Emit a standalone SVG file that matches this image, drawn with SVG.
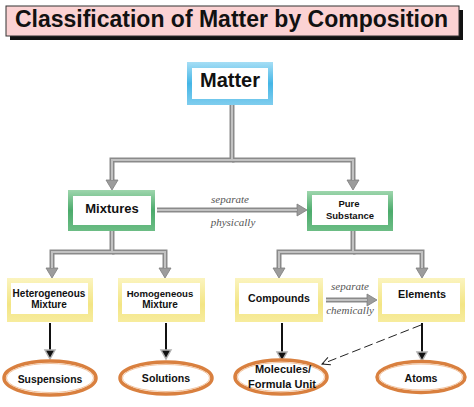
<svg xmlns="http://www.w3.org/2000/svg" width="474" height="407" viewBox="0 0 474 407">
<style>
.bold{font-family:"Liberation Sans",Arial,sans-serif;font-weight:bold;fill:#111;text-anchor:middle}
.ital{font-family:"Liberation Serif","Times New Roman",serif;font-style:italic;fill:#555;text-anchor:middle;font-size:11px}
.inner{fill:#fff}
.tubeo{fill:none;stroke:#8a8a8a;stroke-width:5}
.tubei{fill:none;stroke:#c2c2c2;stroke-width:2}
.blk{fill:none;stroke:#111;stroke-width:2}
.ell{fill:#fff;stroke:#d9803f;stroke-width:3.5}
.elli{fill:none;stroke:#f2c29c;stroke-width:1}
</style>
<defs>
<linearGradient id="gBlue" x1="0" y1="0" x2="0" y2="1"><stop offset="0" stop-color="#a6def5"/><stop offset="0.5" stop-color="#45b6e6"/><stop offset="1" stop-color="#7fcdee"/></linearGradient>
<linearGradient id="gGreen" x1="0" y1="0" x2="0" y2="1"><stop offset="0" stop-color="#9ed6ad"/><stop offset="0.5" stop-color="#4cab6c"/><stop offset="1" stop-color="#6cbd85"/></linearGradient>
<linearGradient id="gYel" x1="0" y1="0" x2="0" y2="1"><stop offset="0" stop-color="#fbf4bf"/><stop offset="0.6" stop-color="#f3e584"/><stop offset="1" stop-color="#f7ec9e"/></linearGradient>
<marker id="aGray" markerUnits="userSpaceOnUse" viewBox="0 -6 10 12" refX="0" refY="0" markerWidth="10" markerHeight="12" orient="auto" overflow="visible">
<path d="M0,-6 L10,0 L0,6 Z" fill="#9c9c9c" stroke="#7d7d7d" stroke-width="0.8"/>
</marker>
<marker id="aBlk" markerUnits="userSpaceOnUse" viewBox="0 -5 9 10" refX="0" refY="0" markerWidth="9" markerHeight="10" orient="auto" overflow="visible">
<path d="M0,-5 L9,0 L0,5 Z" fill="#111" stroke="#b0b0b0" stroke-width="1.5"/>
</marker>
<marker id="aDash" markerUnits="userSpaceOnUse" viewBox="0 -4 8 8" refX="8" refY="0" markerWidth="8" markerHeight="8" orient="auto" overflow="visible">
<path d="M0,-4 L8,0 L0,4" fill="none" stroke="#222" stroke-width="1"/>
</marker>
</defs>
<rect width="474" height="407" fill="#fff"/>

<g id="title">
<rect x="10" y="10" width="453" height="30" fill="#111"/>
<rect x="6" y="6" width="453" height="30" fill="#fbd2d3" stroke="#333" stroke-width="1"/>
<text class="bold" x="231.5" y="26" font-size="23" dominant-baseline="auto" style="dominant-baseline:auto" dy="0"><tspan y="26.5">Classification of Matter by Composition</tspan></text>
</g>

<g id="connectors">
<path class="tubeo" d="M232,105 V160 H112 V180" marker-end="url(#aGray)"/>
<path class="tubeo" d="M232,160 H353 V180" marker-end="url(#aGray)"/>
<path class="tubei" d="M232,105 V160 H112 V180 M232,160 H353 V180"/>
<path class="tubeo" d="M112,231 V252 H52 V268" marker-end="url(#aGray)"/>
<path class="tubeo" d="M112,252 H165 V268" marker-end="url(#aGray)"/>
<path class="tubei" d="M112,231 V252 H52 V268 M112,252 H165 V268"/>
<path class="tubeo" d="M353,231 V252 H279 V268" marker-end="url(#aGray)"/>
<path class="tubeo" d="M353,252 H422 V268" marker-end="url(#aGray)"/>
<path class="tubei" d="M353,231 V252 H279 V268 M353,252 H422 V268"/>
<path class="tubeo" d="M157,210 H297" marker-end="url(#aGray)"/>
<path class="tubei" d="M157,210 H297"/>
<path class="tubeo" d="M326,300 H367" marker-end="url(#aGray)"/>
<path class="tubei" d="M326,300 H367"/>
<path class="blk" d="M50,323 V350" marker-end="url(#aBlk)"/>
<path class="blk" d="M166,323 V350" marker-end="url(#aBlk)"/>
<path class="blk" d="M282,323 V352" marker-end="url(#aBlk)"/>
<path class="blk" d="M422,323 V352" marker-end="url(#aBlk)"/>
<path d="M421,325 L322,364" fill="none" stroke="#222" stroke-width="1" stroke-dasharray="9,4" marker-end="url(#aDash)"/>
<text class="ital" x="230" y="203">separate</text>
<text class="ital" x="233" y="226">physically</text>
<text class="ital" x="350" y="290">separate</text>
<text class="ital" x="350" y="314">chemically</text>
</g>

<g id="matter">
<rect x="187" y="62" width="86" height="43" fill="url(#gBlue)"/>
<rect class="inner" x="192" y="68" width="76" height="31"/>
<text class="bold" x="230" y="87" font-size="20">Matter</text>
</g>

<g id="mixtures">
<rect x="68" y="190" width="87" height="41" fill="url(#gGreen)"/>
<rect class="inner" x="73" y="196" width="78" height="29"/>
<text class="bold" x="112" y="213" font-size="13">Mixtures</text>
</g>

<g id="pure">
<rect x="307" y="191" width="86" height="40" fill="url(#gGreen)"/>
<rect class="inner" x="312" y="195" width="76" height="30"/>
<text class="bold" x="349" y="207" font-size="9.5">Pure</text>
<text class="bold" x="350" y="218.5" font-size="9.5">Substance</text>
</g>

<g id="hetero">
<rect x="7" y="278" width="86" height="44" fill="url(#gYel)"/>
<rect class="inner" x="11" y="283" width="77" height="31"/>
<text class="bold" x="49" y="297" font-size="10">Heterogeneous</text>
<text class="bold" x="49" y="307.5" font-size="10">Mixture</text>
</g>

<g id="homo">
<rect x="118" y="278" width="87" height="44" fill="url(#gYel)"/>
<rect class="inner" x="122" y="283" width="78" height="31"/>
<text class="bold" x="160" y="297" font-size="9.6">Homogeneous</text>
<text class="bold" x="160" y="307.5" font-size="10">Mixture</text>
</g>

<g id="compounds">
<rect x="235" y="278" width="88" height="44" fill="url(#gYel)"/>
<rect class="inner" x="239" y="283" width="79" height="31"/>
<text class="bold" x="279" y="302" font-size="10.6">Compounds</text>
</g>

<g id="elements">
<rect x="378" y="278" width="87" height="44" fill="url(#gYel)"/>
<rect class="inner" x="382" y="283" width="78" height="31"/>
<text class="bold" x="422" y="298" font-size="10.8">Elements</text>
</g>

<g id="suspensions">
<ellipse class="ell" cx="50" cy="378" rx="46" ry="17"/>
<ellipse class="elli" cx="50" cy="378" rx="43.5" ry="14.5"/>
<text class="bold" x="50" y="383" font-size="10.4">Suspensions</text>
</g>

<g id="solutions">
<ellipse class="ell" cx="166" cy="378" rx="46" ry="16"/>
<ellipse class="elli" cx="166" cy="378" rx="43.5" ry="13.5"/>
<text class="bold" x="166" y="382" font-size="10.6">Solutions</text>
</g>

<g id="molecules">
<ellipse class="ell" cx="281" cy="377" rx="46" ry="17"/>
<ellipse class="elli" cx="281" cy="377" rx="43.5" ry="14.5"/>
<text class="bold" x="283" y="373" font-size="11">Molecules/</text>
<text class="bold" x="282" y="388" font-size="11">Formula Unit</text>
</g>

<g id="atoms">
<ellipse class="ell" cx="421" cy="377" rx="44" ry="15.5"/>
<ellipse class="elli" cx="421" cy="377" rx="41.5" ry="13"/>
<text class="bold" x="421" y="382" font-size="10.6">Atoms</text>
</g>
</svg>
